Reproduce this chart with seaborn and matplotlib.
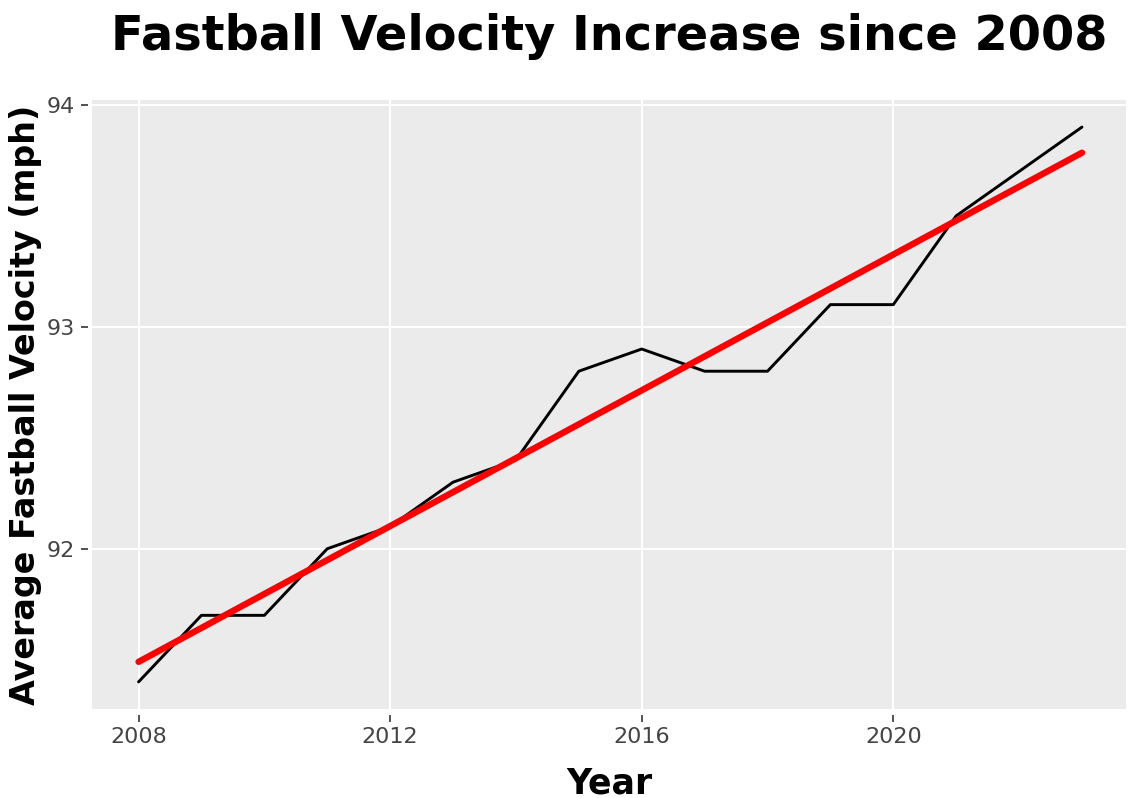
import matplotlib
matplotlib.use("Agg")
import matplotlib.pyplot as plt
import seaborn as sns
import pandas as pd

years = list(range(2008, 2024))
velocity = [91.4, 91.7, 91.7, 92.0, 92.1, 92.3, 92.4, 92.8, 92.9, 92.8, 92.8,
            93.1, 93.1, 93.5, 93.7, 93.9]
x_ticks = [2008, 2012, 2016, 2020]
y_ticks = [92, 93, 94]

df = pd.DataFrame({"Year": years, "Velocity": velocity})

sns.set_theme(style="darkgrid", rc={
    "axes.facecolor": "#EBEBEB",
    "grid.color": "white",
    "grid.linewidth": 1.5,
    "axes.edgecolor": "white",
})
plt.rcParams["font.family"] = ["DejaVu Sans"]

fig = plt.figure(figsize=(11.36, 7.98), dpi=100)
ax = fig.add_axes([92/1136, 1 - 709/798, (1126 - 92)/1136, (709 - 100)/798])

sns.lineplot(data=df, x="Year", y="Velocity", color="black", linewidth=2.1, ax=ax)
sns.regplot(data=df, x="Year", y="Velocity", scatter=False, ci=None,
            color="#FF0000", line_kws={"linewidth": 4.6}, truncate=True, ax=ax)

ax.set_xlim(2007.26, 2023.70)
ax.set_ylim(91.278, 94.022)
ax.set_xticks(x_ticks)
ax.set_yticks(y_ticks)
ax.spines["bottom"].set_position(("outward", 4))
ax.spines["left"].set_position(("outward", 3))
for s in ax.spines.values():
    s.set_visible(False)
ax.tick_params(axis="both", which="major", length=5, width=1.2, color="#333333",
               labelcolor="#444444", labelsize=16, bottom=True, left=True, pad=4)

ax.set_xlabel("Year", fontsize=25, fontweight="bold", color="black", va="baseline")
ax.xaxis.set_label_coords(0.5, (709 - 793) / 609)
ax.set_ylabel("Average Fastball Velocity (mph)", fontsize=24, fontweight="bold",
              color="black")
ax.yaxis.set_label_coords(-50/1034, 0.5)
fig.text((92 + 1126) / 2 / 1136, 1 - 36/798, "Fastball Velocity Increase since 2008",
         ha="center", va="center", fontsize=34.5, fontweight="bold", color="black")

fig.savefig("out.png", dpi=100)
